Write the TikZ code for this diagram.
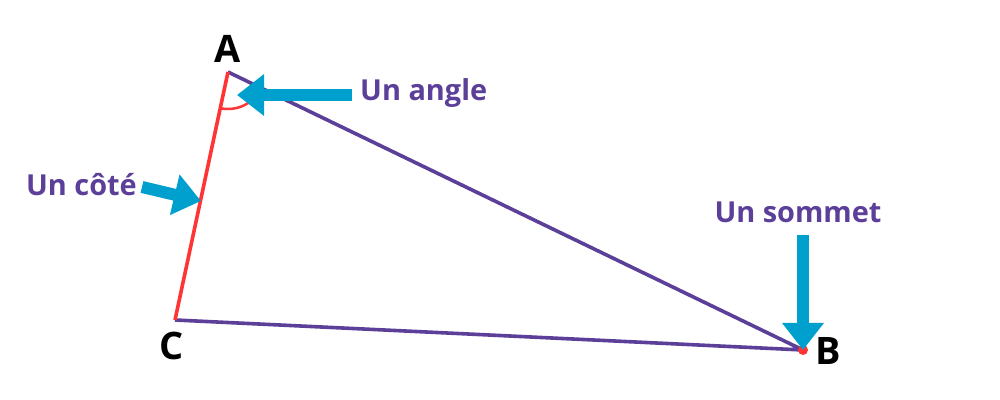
\documentclass[tikz,border=0pt]{standalone}
\usepackage{fontspec}
\setmainfont{Open Sans}
\usetikzlibrary{arrows.meta}
\definecolor{violet}{HTML}{5B3F98}
\definecolor{rouge}{HTML}{FF3535}
\definecolor{bleu}{HTML}{00A0CE}

\begin{document}
\begin{tikzpicture}[line join=round]
 \tikzstyle{sommet}=[text=black,font=\bfseries\fontsize{38}{40}\selectfont,inner sep=0pt]
 \tikzstyle{legende}=[text=violet,font=\bfseries\fontsize{29}{34}\selectfont,inner sep=0pt]
 \tikzstyle{fleche}=[bleu,line width=12bp,-{Triangle[width=40bp,length=27bp]}]
 \useasboundingbox (0,0) rectangle (1000bp,400bp);

 \coordinate (A) at (228bp,328bp);
 \coordinate (C) at (175bp,80bp);
 \coordinate (B) at (803bp,50bp);

 \node (Alabel) at (228bp,351bp) [sommet] {A};
 \node (Clabel) at (172bp,54bp) [sommet] {C};
 \node (Blabel) at (828bp,49bp) [sommet] {B};

 \node (angle) at (360bp,307bp) [legende,anchor=west] {Un angle};
 \node (cote) at (137bp,215bp) [legende,anchor=east] {Un côté};
 \node (sommet) at (798bp,188bp) [legende] {Un sommet};

 \draw [violet,line width=3.6bp] (A) -- (B) -- (C);
 \draw [rouge,line width=3.6bp] (C) -- (A);
 \fill [rouge] (B) circle (5bp);
 \draw [rouge,line width=2.5bp] ([shift={(-102.1:37bp)}]A) arc[start angle=-102.1,end angle=-25.8,radius=37bp];

 \coordinate (angletail) at (352bp,305bp);
 \coordinate (angletip) at (237bp,305bp);
 \coordinate (cotetail) at (142bp,213bp);
 \coordinate (cotetip) at (201bp,199bp);
 \coordinate (sommettail) at (803bp,165bp);

 \draw [fleche] (angletail) -- (angletip);
 \draw [fleche] (cotetail) -- (cotetip);
 \draw [fleche] (sommettail) -- (B);
\end{tikzpicture}
\end{document}
